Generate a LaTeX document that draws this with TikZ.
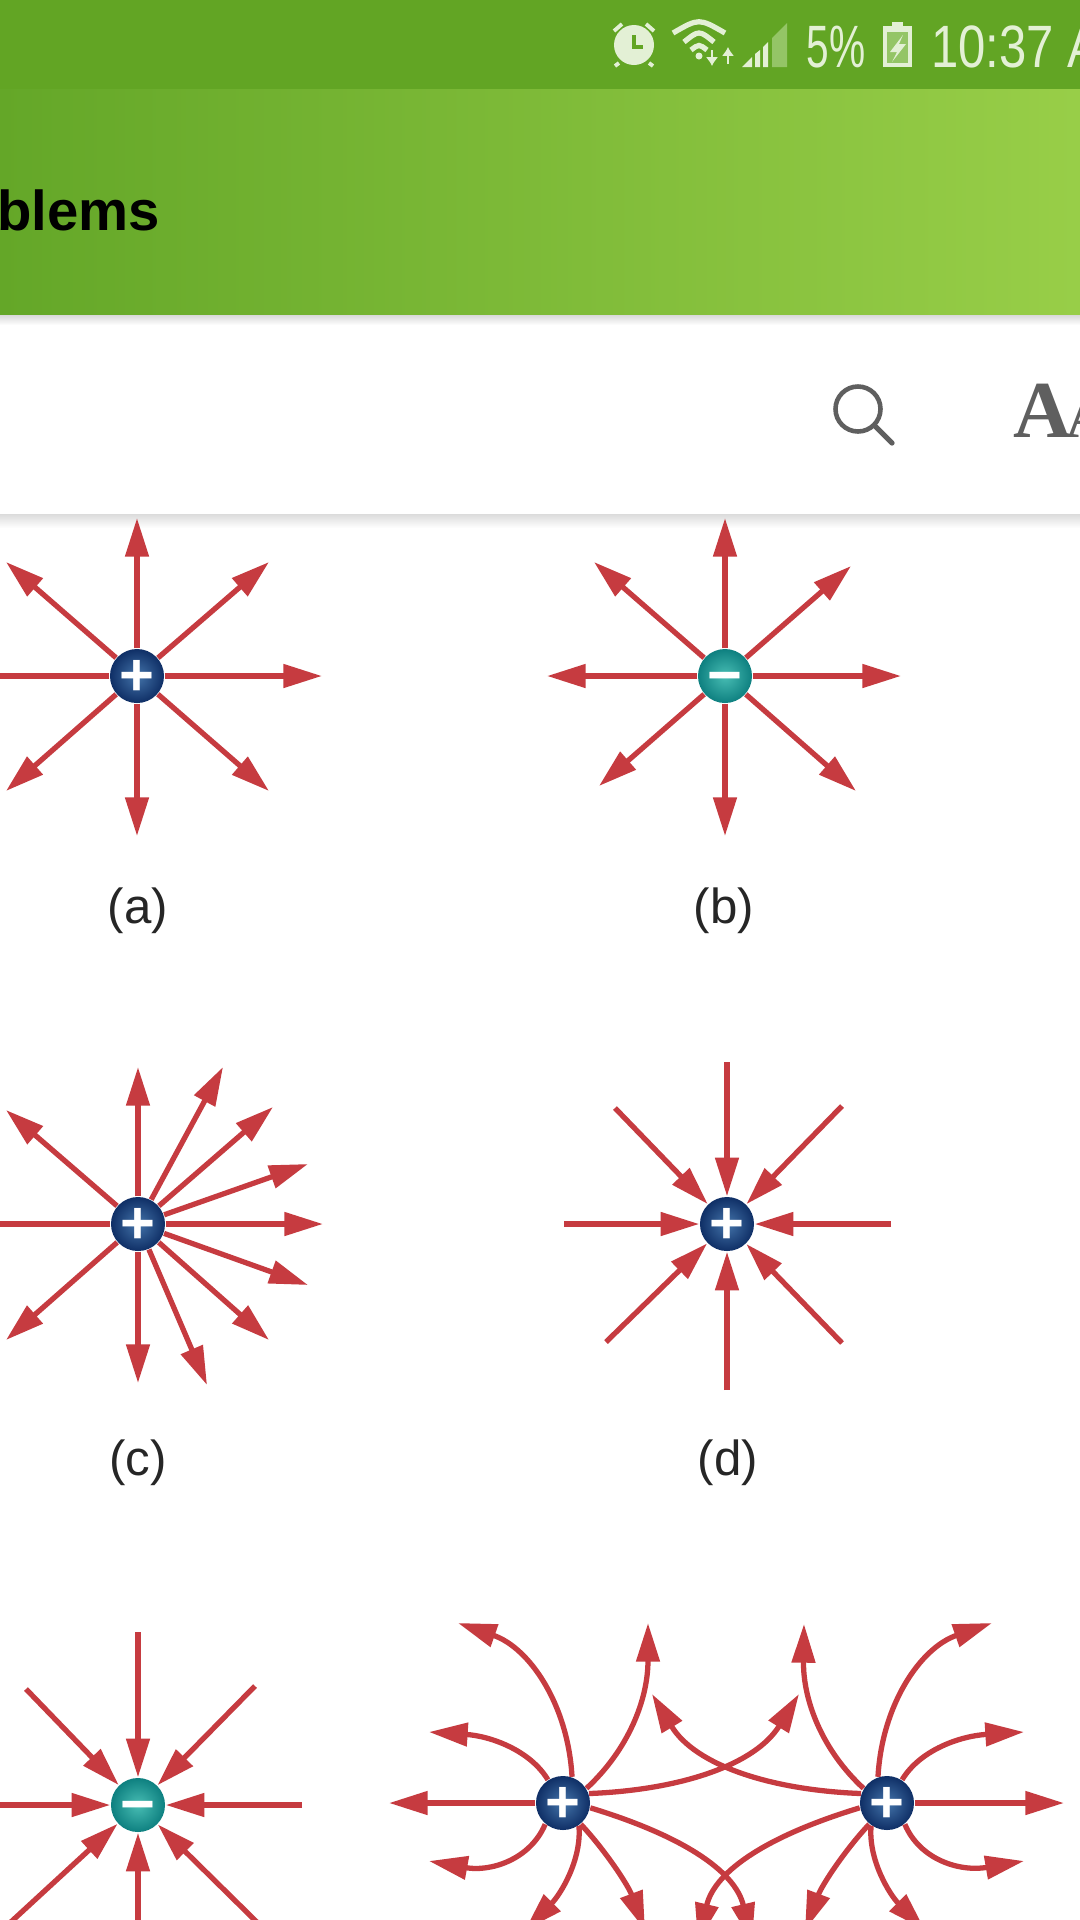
\documentclass[tikz,border=0pt]{standalone}
\usepackage{fontspec}
\setmainfont{Liberation Sans}
\newfontfamily\serifhead{Liberation Serif}
\usetikzlibrary{arrows.meta}

\definecolor{fieldred}{HTML}{C63B40}
\definecolor{barlight}{HTML}{E3F0D5}
\definecolor{bardim}{HTML}{94C566}
\definecolor{statusgreen}{HTML}{62A524}
\definecolor{barleft}{HTML}{64A728}
\definecolor{barright}{HTML}{98CE48}
\definecolor{icongray}{HTML}{5F5F5F}
\definecolor{posinner}{HTML}{4474AA}
\definecolor{posouter}{HTML}{0F2F66}
\definecolor{neginner}{HTML}{48BDB4}
\definecolor{negouter}{HTML}{0E8080}

\tikzset{
	fieldline/.style = {draw = fieldred, line width = 1.5pt, -{Triangle[length = 11pt, width = 6.5pt]}},
	charge/.style = {circle, minimum size = 0.54cm, inner sep = 0pt, text = white, text height = 11.2pt, text depth = 0pt, font = \fontsize{17}{17}\selectfont\bfseries},
	poscharge/.style = {charge, shading = radial, inner color = posinner, outer color = posouter},
	negcharge/.style = {charge, shading = radial, inner color = neginner, outer color = negouter},
	caption/.style = {font = \fontsize{14}{14}\selectfont, text = black!85},
	statustext/.style = {anchor = base west, text = barlight, font = \fontsize{17}{17}\selectfont}
}

\begin{document}
\begin{tikzpicture}[x = 0.01cm, y = -0.01cm]

	% Page, y counts downwards as in the screenshot

	\path [use as bounding box, clip] (0, 0) rectangle (1080, 1920);
	\fill [white] (0, 0) rectangle (1080, 1920);

	% Application bars

	\fill [statusgreen] (0, 0) rectangle (1080, 89);
	\shade [left color = barleft, right color = barright] (0, 89) rectangle (1080, 315);
	\shade [top color = black!15, bottom color = white] (0, 315) rectangle (1080, 325);
	\shade [top color = black!14, bottom color = white] (0, 514) rectangle (1080, 528);

	\node (title) [anchor = base west, font = \fontsize{16}{16}\selectfont\bfseries] at (-15, 230) {blems};

	% Status bar

	\node (battery) [statustext, xscale = 0.68] at (798, 67) {5\%};
	\node (clock) [statustext, xscale = 0.82] at (921, 67) {10:37 A};

	\begin{scope}[barlight]

		\fill (634, 45) circle (20);
		\draw [line width = 1.1pt] (614, 31) -- (622, 24) (654, 31) -- (646, 24) (619, 63) -- (615, 66) (649, 63) -- (653, 66);
		\draw [statusgreen, line width = 1pt] (634, 35) -- (634, 47) -- (643, 47);

		\draw [line width = 1.5pt] (673, 33) .. controls (699, 18) .. (725, 33);
		\draw [line width = 1.5pt] (684, 42) .. controls (699, 30) .. (714, 42);
		\draw [line width = 1.5pt] (691, 50) .. controls (699, 44) .. (707, 50);
		\fill (699, 56) circle (3.5);
		\draw [line width = 0.8pt, -{Latex[length = 2.5pt, width = 3.5pt]}] (712, 50) -- (712, 66);
		\draw [line width = 0.8pt, -{Latex[length = 2.5pt, width = 3.5pt]}] (728, 64) -- (728, 47);

		\fill (742, 67) -- (752, 67) -- (752, 57) -- cycle;
		\fill (755, 67) -- (760, 67) -- (760, 50) -- (755, 54) -- cycle;
		\fill (763, 67) -- (768, 67) -- (768, 42) -- (763, 47) -- cycle;
		\fill [bardim] (772, 67) -- (787, 67) -- (787, 23) -- (772, 38) -- cycle;

		\fill (883, 26) rectangle (912, 67);
		\fill (892, 22) rectangle (903, 26);
		\fill [bardim] (887, 32) rectangle (908, 63);
		\fill (903, 35) -- (890, 52) -- (897, 52) -- (892, 62) -- (906, 44) -- (899, 44) -- cycle;

	\end{scope}

	% Tool bar icons

	\draw [icongray, line width = 1.3pt, line cap = round] (858, 409) circle (22.5);
	\draw [icongray, line width = 1.5pt, line cap = round] (875, 426) -- (892, 443);

	\node (fontsize) [anchor = base west, inner sep = 0pt, text = icongray, font = \serifhead\bfseries] at (1013, 437) {\fontsize{23}{23}\selectfont A\kern-1.5pt\fontsize{17}{17}\selectfont A};

	% Charges

	\node (qa) [poscharge] at (137, 676) {+};
	\node (qb) [negcharge] at (725, 676) {−};
	\node (qc) [poscharge] at (138, 1224) {+};
	\node (qd) [poscharge] at (727, 1224) {+};
	\node (qe) [negcharge] at (138, 1805) {−};
	\node (qf) [poscharge] at (563, 1803) {+};
	\node (qg) [poscharge] at (887, 1803) {+};

	% Captions

	\node (capa) [caption] at (138, 911) {(a)};
	\node (capb) [caption] at (724, 911) {(b)};
	\node (capc) [caption] at (138, 1463) {(c)};
	\node (capd) [caption] at (728, 1463) {(d)};

	% Free ends of the straight field lines

	\foreach \n/\x/\y in {1/137/518, 2/269/562, 3/322/676, 4/269/791, 5/137/836, 6/6/791, 7/-48/676, 8/6/562}
		\coordinate (a\n) at (\x, \y);

	\foreach \n/\x/\y in {1/725/518, 2/851/566, 3/901/676, 4/856/791, 5/725/836, 6/599/786, 7/547/676, 8/594/562}
		\coordinate (b\n) at (\x, \y);

	\foreach \n/\x/\y in {1/138/1067, 2/223/1067, 3/273/1107, 4/308/1164, 5/323/1224, 6/308/1285, 7/269/1340, 8/207/1385, 9/138/1383, 10/6/1340, 11/-48/1224, 12/6/1110}
		\coordinate (c\n) at (\x, \y);

	\foreach \n/\x/\y in {1/727/1062, 2/842/1106, 3/891/1224, 4/842/1343, 5/727/1390, 6/606/1342, 7/564/1224, 8/615/1108}
		\coordinate (d\n) at (\x, \y);

	\foreach \n/\x/\y in {1/138/1632, 2/255/1686, 3/302/1805, 4/270/1935, 5/138/1990, 6/0/1932, 7/-30/1805, 8/26/1689}
		\coordinate (e\n) at (\x, \y);

	% Straight field lines

	\foreach \n in {1, ..., 8}
		\draw [fieldline] (qa) -- (a\n);

	\foreach \n in {1, ..., 8}
		\draw [fieldline] (qb) -- (b\n);

	\foreach \n in {1, ..., 12}
		\draw [fieldline] (qc) -- (c\n);

	\foreach \n in {1, ..., 8}
		\draw [fieldline] (d\n) -- (qd);

	\foreach \n in {1, ..., 8}
		\draw [fieldline] (e\n) -- (qe);

	% Field lines of the pair of charges

	\coordinate (f1) at (458, 1623);
	\coordinate (f2) at (648, 1623);
	\coordinate (f3) at (799, 1694);
	\coordinate (f4) at (429, 1732);
	\coordinate (f5) at (389, 1803);
	\coordinate (f6) at (429, 1861);
	\coordinate (f7) at (525, 1930);
	\coordinate (f8) at (645, 1930);
	\coordinate (f9) at (752, 1942);

	\coordinate (g1) at (992, 1623);
	\coordinate (g2) at (804, 1624);
	\coordinate (g3) at (652, 1694);
	\coordinate (g4) at (1024, 1732);
	\coordinate (g5) at (1064, 1803);
	\coordinate (g6) at (1024, 1861);
	\coordinate (g7) at (925, 1930);
	\coordinate (g8) at (805, 1930);
	\coordinate (g9) at (698, 1942);

	\draw [fieldline] (qf.71) .. controls (568, 1705) and (530, 1648) .. (f1);
	\draw [fieldline] (qf.32) .. controls (628, 1750) and (648, 1700) .. (f2);
	\draw [fieldline] (qf.20) .. controls (680, 1790) and (755, 1765) .. (f3);
	\draw [fieldline] (qf.123) .. controls (530, 1750) and (490, 1736) .. (f4);
	\draw [fieldline] (qf) -- (f5);
	\draw [fieldline] (qf.230) .. controls (530, 1860) and (490, 1872) .. (f6);
	\draw [fieldline] (qf.305) .. controls (582, 1860) and (560, 1895) .. (f7);
	\draw [fieldline] (qf.310) .. controls (605, 1850) and (628, 1885) .. (f8);
	\draw [fieldline] (qf.350) .. controls (680, 1835) and (735, 1870) .. (f9);

	\draw [fieldline] (qg.109) .. controls (882, 1705) and (920, 1648) .. (g1);
	\draw [fieldline] (qg.148) .. controls (822, 1750) and (803, 1700) .. (g2);
	\draw [fieldline] (qg.160) .. controls (770, 1790) and (695, 1765) .. (g3);
	\draw [fieldline] (qg.57) .. controls (920, 1750) and (960, 1736) .. (g4);
	\draw [fieldline] (qg) -- (g5);
	\draw [fieldline] (qg.310) .. controls (920, 1860) and (960, 1872) .. (g6);
	\draw [fieldline] (qg.235) .. controls (868, 1860) and (890, 1895) .. (g7);
	\draw [fieldline] (qg.230) .. controls (845, 1850) and (822, 1885) .. (g8);
	\draw [fieldline] (qg.190) .. controls (770, 1835) and (715, 1870) .. (g9);

\end{tikzpicture}
\end{document}
